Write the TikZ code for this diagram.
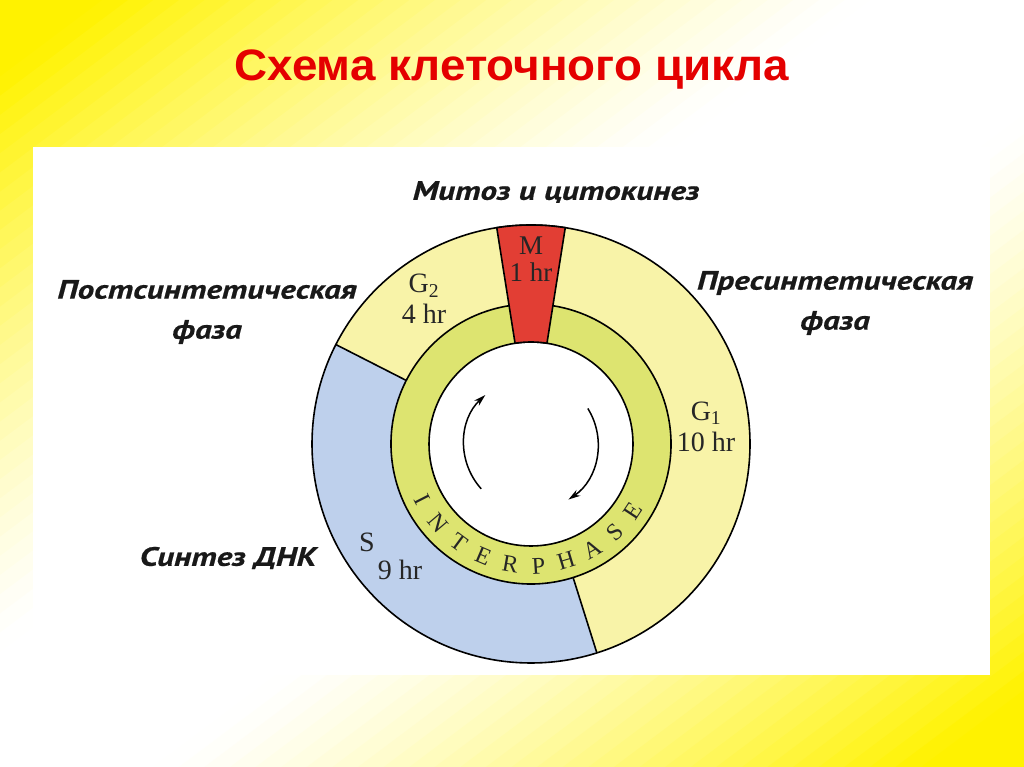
\documentclass[tikz,border=0pt]{standalone}
\usepackage{fontspec}
\setmainfont{Liberation Serif}
\newfontfamily\titlefont[FakeStretch=1.04]{Liberation Sans}
\newfontfamily\phasefont[FakeStretch=1.25, FakeBold=0.6]{PT Sans}
\usetikzlibrary{arrows.meta}

\definecolor{cYellow}{RGB}{248,243,168}
\definecolor{cBlue}{RGB}{190,208,236}
\definecolor{cRing}{RGB}{221,228,112}
\definecolor{cRed}{RGB}{226,62,52}
\definecolor{cTitle}{RGB}{228,0,0}

\tikzset{
  rusLabel/.style={font=\phasefont\bfseries\itshape\fontsize{26.5}{40}\selectfont, align=center, text=black!90},
  hrLabel/.style={font=\fontsize{28}{31}\selectfont, align=center, inner sep=0pt, text=black!85},
  ringLetter/.style={font=\fontsize{24}{24}\selectfont, inner sep=0pt, text=black!85},
  cycArrow/.style={line width=1.5pt, -{Stealth[length=12pt,width=7pt]}},
  border/.style={line width=1.6pt}
}

\begin{document}
\begin{tikzpicture}[x=1pt,y=1pt]
\useasboundingbox (0,0) rectangle (1024,767);
%фон: полосы по диагонали
\begin{scope}
\clip (0,0) rectangle (1024,767);
\foreach \t in {-1,-0.975,...,0.99}
{
    \pgfmathsetmacro\p{100*pow(min(1,max(0.001,(abs(\t+0.0125)-0.15)/0.75)),1.3)}
    \fill[yellow!\p!white] ({512*(1+\t)-1024},{383.5*(1-\t)-767}) -- ({512*(1+\t)+1024},{383.5*(1-\t)+767})
        -- ({512*(1+\t+0.03)+1024},{383.5*(1-\t-0.03)+767}) -- ({512*(1+\t+0.03)-1024},{383.5*(1-\t-0.03)-767}) -- cycle;
};
\end{scope}
\fill[white] (33,92) rectangle (990,620);

\node[font=\titlefont\bfseries\fontsize{44}{50}\selectfont, text=cTitle] (nTitle) at (512,697) {Схема клеточного цикла};

%клеточный цикл
\begin{scope}[shift={(531,323)}]
\coordinate (cCPt) at (0,0);
\fill[cYellow] (cCPt) circle (219);
\fill[cBlue] (cCPt) -- (153:219) arc[start angle=153, end angle=287.5, radius=219] -- cycle;
\fill[cRing] (cCPt) circle (140);
\fill[white] (cCPt) circle (102);

\draw[border] (cCPt) circle (219);
\draw[border] (99:140) arc[start angle=99, end angle=441, radius=140];
\draw[border] (cCPt) circle (102);
\foreach \a in {153,287.5}
{
    \draw[border] (\a:140) -- (\a:219);
};

%M
\draw[border, fill=cRed] (81:102) -- (81:219) arc[start angle=81, end angle=99, radius=219]
    -- (99:102) arc[start angle=99, end angle=81, radius=102] -- cycle;

%стрелки
\draw[cycArrow] (222:67) arc[start angle=222, end angle=133, radius=67];
\draw[cycArrow] (32:67) arc[start angle=32, end angle=-56, radius=67];

\foreach \l [count=\i, evaluate=\i as \a using 207+(\i-1)*13.3] in {I,N,T,E,R,P,H,A,S,E}
{
    \node[ringLetter, rotate=\a+90] (nLetter\i) at (\a:122) {\l};
};
\end{scope}

\node[hrLabel, font=\fontsize{27}{27}\selectfont] (nM) at (531,508) {M\\1 hr};
\node[hrLabel] (nGtwo) at (424,468) {G\textsubscript{2}\\4 hr};
\node[hrLabel] (nGone) at (706,340) {G\textsubscript{1}\\10 hr};
\node[hrLabel] (nS) at (367,225) {S};
\node[hrLabel] (nShr) at (400,197) {9 hr};

\node[rusLabel] (nMitosis) at (556,575) {Митоз и цитокинез};
\node[rusLabel] (nPost) at (207,455) {Постсинтетическая\\фаза};
\node[rusLabel] (nPre) at (835,464) {Пресинтетическая\\фаза};
\node[rusLabel] (nSynth) at (228,209) {Синтез ДНК};
\end{tikzpicture}
\end{document}
